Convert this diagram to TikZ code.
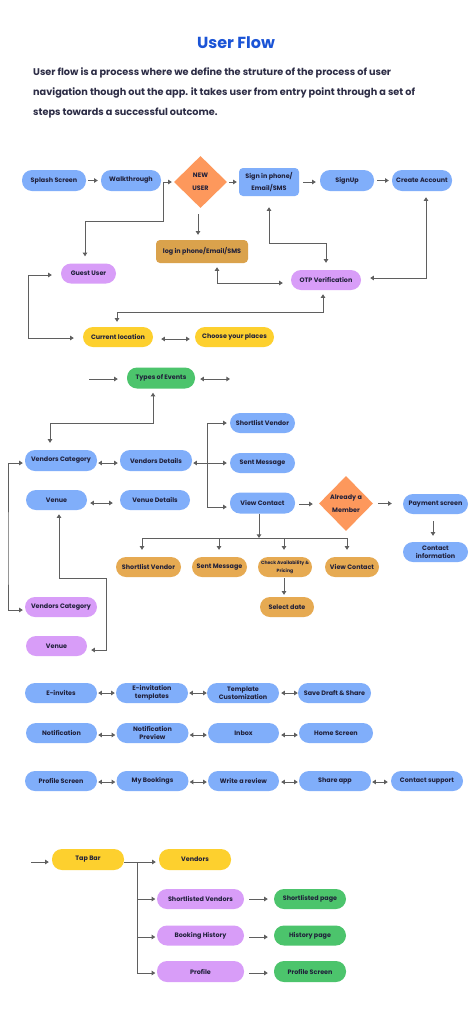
\documentclass[tikz,border=0pt]{standalone}
\usepackage{fontspec}
\setmainfont{Poppins}
\usetikzlibrary{arrows.meta,shapes.geometric}
\definecolor{cblue}{RGB}{128,174,250}
\definecolor{cpurple}{RGB}{216,157,248}
\definecolor{cyellow}{RGB}{253,208,46}
\definecolor{cgold}{RGB}{218,162,76}
\definecolor{corange}{RGB}{230,170,82}
\definecolor{cdiam}{RGB}{253,152,92}
\definecolor{cgreen}{RGB}{76,196,108}
\definecolor{ctext}{RGB}{32,32,58}
\definecolor{ctitle}{RGB}{27,84,214}
\definecolor{cpara}{RGB}{45,45,70}
\definecolor{cline}{RGB}{95,95,95}
\tikzset{
  base/.style={font=\fontsize{6.4}{8.5}\selectfont\bfseries, text=ctext, inner sep=0pt, align=center, minimum height=20pt},
  pill/.style={base, rounded corners=10pt},
  rbox/.style={base, rounded corners=4pt},
  bluep/.style={pill, fill=cblue},
  purp/.style={pill, fill=cpurple},
  yelp/.style={pill, fill=cyellow},
  orap/.style={pill, fill=corange},
  grep/.style={pill, fill=cgreen},
  diam/.style={base, diamond, fill=cdiam, minimum width=54pt, minimum height=54pt},
  arr/.style={draw=cline, line width=1pt, -{Triangle[length=3.6pt,width=4.4pt]}},
  dbl/.style={draw=cline, line width=1pt, {Triangle[length=3.6pt,width=4.4pt]}-{Triangle[length=3.6pt,width=4.4pt]}},
  plain/.style={draw=cline, line width=1pt}
}
\begin{document}
\begin{tikzpicture}[x=1pt,y=-1pt]
\fill[white] (0,0) rectangle (474,1031);
\useasboundingbox (0,0) rectangle (474,1031);

% title and paragraph
\node[font=\fontsize{16}{19}\selectfont\bfseries, text=ctitle] (title) at (236,43) {User Flow};
\node[anchor=west, align=left, inner sep=0pt, text=cpara, font=\fontsize{9.7}{20}\selectfont\bfseries] (para) at (33,93)
  {User flow is a process where we define the struture of the process of user\\
   navigation though out the app. it takes user from entry point through a set of\\
   steps towards a successful outcome.};

% ---------- section 1 ----------
\node[bluep, minimum width=64pt, minimum height=21pt] (splash) at (54,180.5) {Splash Screen};
\node[bluep, minimum width=60pt, minimum height=21pt] (walk) at (131,180.5) {Walkthrough};
\node[diam, minimum width=53pt, minimum height=52pt] (newuser) at (200.5,182) {NEW\\[4pt]USER};
\node[rbox, fill=cblue, minimum width=60pt, minimum height=28pt] (signin) at (269,182) {Sign in phone/\\[3pt]Email/SMS};
\node[bluep, minimum width=54pt, minimum height=21pt] (signup) at (347,180.5) {SignUp};
\node[bluep, minimum width=60pt, minimum height=21pt] (create) at (422,180.5) {Create Account};
\node[rbox, fill=cgold, minimum width=92pt, minimum height=23pt] (login) at (202,251.5) {log in phone/Email/SMS};
\node[purp, minimum width=70pt] (otp) at (326,280) {OTP Verification};
\node[purp, minimum width=55pt] (guest) at (88.5,273.5) {Guest User};
\node[yelp, minimum width=70pt] (curloc) at (118,337) {Current location};
\node[yelp, minimum width=79pt] (choose) at (234.5,337) {Choose your places};

\draw[arr, shorten <=2pt, shorten >=3pt] (splash) -- (walk);
\draw[dbl, shorten <=7pt, shorten >=2pt] ([xshift=-3.5pt]guest.north) |- (163,221) |- (newuser.west);
\draw[arr, shorten <=6pt, shorten >=5pt] ([xshift=-2.5pt]newuser.south) -- ([xshift=-4pt]login.north);
\draw[arr, shorten <=2pt, shorten >=2pt] (newuser.east) -- (newuser.east -| signin.west);
\draw[arr, shorten <=4pt, shorten >=4pt] (signin.east) -- (signin.east -| signup.west);
\draw[arr, shorten <=3pt, shorten >=3pt] (signup) -- (create);
\draw[dbl, shorten <=11pt, shorten >=7pt] (signin.south) -- (269,243) -| (otp.north);
\draw[dbl, shorten <=6pt, shorten >=9pt] ([xshift=4pt]create.south) |- ([yshift=2pt]otp.east);
\draw[dbl, shorten <=4pt, shorten >=8pt] ([xshift=15pt]login.south) |- ([yshift=-3pt]otp.west);
\draw[dbl, shorten <=9pt, shorten >=9pt] ([yshift=-1.5pt]guest.west) -| (28,338) -- ([yshift=-1pt]curloc.west);
\draw[dbl, shorten <=4pt, shorten >=5pt] ([xshift=-3pt]otp.south) |- (117,312) -| ([xshift=-1pt]curloc.north);
\draw[dbl, shorten <=8pt, shorten >=5pt] ([yshift=-2pt]curloc.east) -- ([yshift=-2pt]choose.west);

% ---------- section 2 ----------
\node[grep, minimum width=68pt, minimum height=21pt] (types) at (161,378) {Types of Events};
\coordinate (tin) at (89,379);
\coordinate (tout) at (230,379);
\draw[arr, shorten >=9pt] (tin) -- ([yshift=-1pt]types.west);
\draw[dbl, shorten <=5pt] ([yshift=-1pt]types.east) -- (tout);

\node[bluep, minimum width=72pt, minimum height=21pt] (vcat) at (61,460.5) {Vendors Category};
\node[bluep, minimum width=72pt, minimum height=21pt] (vdet) at (156,460.5) {Vendors Details};
\node[bluep, minimum width=65pt] (shortlist) at (262.5,423) {Shortlist Vendor};
\node[bluep, minimum width=65pt] (sent) at (262.5,463) {Sent Message};
\node[bluep, minimum width=65pt, minimum height=21pt] (viewc) at (262.5,503) {View Contact};
\node[bluep, minimum width=61pt] (venue) at (56.5,500) {Venue};
\node[bluep, minimum width=70pt] (venued) at (155,500) {Venue Details};
\node[diam, minimum width=54pt, minimum height=55pt] (member) at (346,503.5) {Already a\\[5pt]Member};
\node[bluep, minimum width=65pt] (pay) at (435.5,504) {Payment screen};
\node[bluep, minimum width=65pt] (cinfo) at (435.5,552) {Contact\\information};

\draw[dbl, shorten <=4pt, shorten >=7pt] ([xshift=-8pt]types.south) |- (50,423) -| ([xshift=-11pt]vcat.north);
\draw[dbl, shorten <=1pt, shorten >=2pt] ([yshift=-2.5pt]vcat.east) -- ([yshift=-2.5pt]vdet.west);
\coordinate (br) at (207,463);
\draw[dbl, shorten <=1pt, shorten >=3pt] ([yshift=-2.5pt]vdet.east) -- (sent.west);
\draw[arr, shorten >=3pt] (br) |- (shortlist.west);
\draw[arr, shorten >=3pt] (br) |- ([yshift=-4pt]viewc.west);
\draw[dbl, shorten <=3pt, shorten >=7pt] ([yshift=-3pt]venue.east) -- ([yshift=-3pt]venued.west);
\draw[arr, shorten <=4pt, shorten >=6pt] ([yshift=-1pt]viewc.east) -- ([yshift=-1pt]viewc.east -| member.west);
\draw[arr, shorten <=5pt, shorten >=11pt] (member.east) -- (member.east -| pay.west);
\draw[arr, shorten <=7pt, shorten >=6pt] ([xshift=-2.5pt]pay.south) -- ([xshift=-2.5pt]cinfo.north);

\node[orap, minimum width=65pt] (os) at (148.5,567) {Shortlist Vendor};
\node[orap, minimum width=55pt] (osm) at (219.5,567) {Sent Message};
\node[orap, minimum width=54pt, font=\fontsize{4.6}{8}\selectfont\bfseries] (ocheck) at (285,567) {Check Availability \&\\Pricing};
\node[orap, minimum width=54pt] (ovc) at (352,567) {View Contact};
\node[orap, minimum width=54pt] (select) at (287,607) {Select date};

\coordinate (bus) at (259,538);
\draw[arr] ([xshift=-3.5pt]viewc.south) -- (bus);
\draw[arr, shorten >=7pt] (bus) -| ([xshift=-6.5pt]os.north);
\draw[arr, shorten >=7pt] (bus) -| ([xshift=-0.5pt]osm.north);
\draw[arr, shorten >=7pt] (bus) -| ([xshift=-1pt]ocheck.north);
\draw[arr, shorten >=7pt] (bus) -| ([xshift=-5pt]ovc.north);
\draw[arr, shorten <=1pt, shorten >=2pt] ([xshift=-1pt]ocheck.south) -- ([xshift=-3pt]select.north);

\node[purp, minimum width=72pt] (pvcat) at (61,607) {Vendors Category};
\node[purp, minimum width=61pt] (pvenue) at (56.5,646) {Venue};
\draw[dbl, shorten <=2pt, shorten >=2pt] ([yshift=-2.5pt]vcat.west) -| (8,560) |- ([yshift=-3pt]pvcat.west);
\draw[dbl, shorten <=4pt, shorten >=4pt] ([xshift=2.5pt]venue.south) |- (106,578) |- ([yshift=-4pt]pvenue.east);

% ---------- section 3 ----------
\node[bluep, minimum width=72pt] (einv) at (61,693) {E-invites};
\node[bluep, minimum width=72pt] (etpl) at (152,693) {E-invitation\\templates};
\node[bluep, minimum width=72pt] (tcus) at (243,693) {Template\\Customization};
\node[bluep, minimum width=73pt] (save) at (334.5,693) {Save Draft \& Share};
\draw[dbl, shorten <=1pt, shorten >=1pt] (einv) -- (etpl);
\draw[dbl, shorten <=1pt, shorten >=0pt] (etpl) -- (tcus);
\draw[dbl, shorten <=2pt, shorten >=0pt] (tcus) -- (save);

\node[bluep, minimum width=71pt] (notif) at (61.5,733) {Notification};
\node[bluep, minimum width=72pt] (nprev) at (152.5,733) {Notification\\Preview};
\node[bluep, minimum width=71pt] (inbox) at (243.5,733) {Inbox};
\node[bluep, minimum width=74pt] (home) at (336,733) {Home Screen};
\draw[dbl, shorten <=1pt, shorten >=1pt] ([yshift=-2pt]notif.east) -- ([yshift=-2pt]nprev.west);
\draw[dbl, shorten <=1pt, shorten >=1pt] ([yshift=-2pt]nprev.east) -- ([yshift=-2pt]inbox.west);
\draw[dbl, shorten <=2pt, shorten >=1pt] ([yshift=-2pt]inbox.east) -- ([yshift=-2pt]home.west);

\node[bluep, minimum width=72pt] (profs) at (61,781) {Profile Screen};
\node[bluep, minimum width=72pt] (mybk) at (152.5,781) {My Bookings};
\node[bluep, minimum width=71pt] (review) at (243.5,781) {Write a review};
\node[bluep, minimum width=72pt] (share) at (335,781) {Share app};
\node[bluep, minimum width=72pt] (csup) at (427,781) {Contact support};
\draw[dbl, shorten <=1pt, shorten >=1pt] ([yshift=-1pt]profs.east) -- ([yshift=-1pt]mybk.west);
\draw[dbl, shorten <=1pt, shorten >=1pt] ([yshift=-1pt]mybk.east) -- ([yshift=-1pt]review.west);
\draw[dbl, shorten <=2pt, shorten >=1pt] ([yshift=-1pt]review.east) -- ([yshift=-1pt]share.west);
\draw[dbl, shorten <=1pt, shorten >=3pt] ([yshift=-1pt]share.east) -- ([yshift=-1pt]csup.west);

% ---------- section 4 ----------
\node[yelp, minimum width=72pt, minimum height=21pt] (tapbar) at (88,859.5) {Tap Bar};
\node[yelp, minimum width=72pt, minimum height=21pt] (vendors) at (195,859.5) {Vendors};
\node[purp, minimum width=87pt] (slv) at (200.5,899) {Shortlisted Vendors};
\node[purp, minimum width=87pt] (bh) at (200.5,935.5) {Booking History};
\node[purp, minimum width=87pt, minimum height=21pt] (prof) at (200.5,971.5) {Profile};
\node[grep, minimum width=72pt] (slp) at (310,899) {Shortlisted page};
\node[grep, minimum width=72pt] (hp) at (310,935.5) {History page};
\node[grep, minimum width=72pt, minimum height=21pt] (ps) at (310,971.5) {Profile Screen};

\coordinate (tin2) at (31,862);
\coordinate (tb) at (137,862);
\draw[arr, shorten >=3pt] (tin2) -- ([yshift=-2.5pt]tapbar.west);
\draw[plain] ([yshift=-2.5pt]tapbar.east) -- (tb);
\draw[arr, shorten >=3pt] (tb) -- ([yshift=-2.5pt]vendors.west);
\draw[arr, shorten >=1.5pt] (tb) |- (slv.west);
\draw[arr, shorten >=1.5pt] (tb) |- ([yshift=-1.5pt]bh.west);
\draw[arr, shorten >=1.5pt] (tb) |- ([yshift=-1.5pt]prof.west);
\draw[arr, shorten <=5pt, shorten >=6pt] (slv) -- (slp);
\draw[arr, shorten <=5pt, shorten >=6pt] ([yshift=-1.5pt]bh.east) -- ([yshift=-1.5pt]hp.west);
\draw[arr, shorten <=5pt, shorten >=6pt] ([yshift=-1.5pt]prof.east) -- ([yshift=-1.5pt]ps.west);
\end{tikzpicture}
\end{document}
